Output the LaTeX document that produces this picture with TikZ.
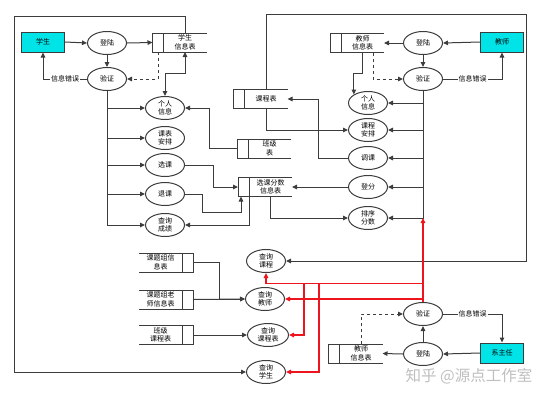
\documentclass[tikz,border=0pt]{standalone}
\usepackage{fontspec}
\setmainfont{Noto Sans CJK SC}
\usetikzlibrary{shapes.geometric, arrows.meta}
\definecolor{boxcyan}{RGB}{0,228,232}
\definecolor{linered}{RGB}{238,20,30}
\definecolor{linegray}{RGB}{60,60,60}

\begin{document}
\begin{tikzpicture}[
        x=1pt, y=-1pt,
        font=\fontsize{7pt}{8.5pt}\selectfont,
        actor/.style={rectangle, draw=linegray, line width=1pt, fill=boxcyan, minimum width=43pt, minimum height=20pt},
        proc/.style={ellipse, draw=linegray, line width=1pt, minimum width=39pt, minimum height=23pt, inner sep=0pt, align=center},
        store/.style={rectangle, minimum width=43pt, minimum height=19pt, inner sep=0pt, outer sep=0pt, align=center},
        arrow/.style={-{Triangle[length=5pt, width=4.5pt]}, line width=1pt, draw=linegray},
        twoway/.style={{Triangle[length=5pt, width=4.5pt]}-{Triangle[length=5pt, width=4.5pt]}, line width=1pt, draw=linegray},
        dasharrow/.style={arrow, dashed},
        redarrow/.style={-{Triangle[length=5pt, width=4.5pt]}, line width=1.1pt, color=linered},
        errlabel/.style={fill=white, inner sep=1pt}
    ]
    \useasboundingbox (0,0) rectangle (552,400);

    % student side
    \node (stu) [actor] at (43,42) {学生};
    \node (slogin) [proc] at (107,43) {登陆};
    \node (sver) [proc] at (107,79) {验证};
    \node (sstu) [store] at (185,42.5) {学生\\信息表};
    \node (spinfo) [proc] at (165,108) {个人\\信息};
    \node (ssched) [proc] at (165,138) {课表\\安排};
    \node (ssel) [proc] at (165,165) {选课};
    \node (sdrop) [proc] at (165,194) {退课};
    \node (sgrade) [proc] at (165,225) {查询\\成绩};

    % shared tables
    \node (course) [store] at (266,99) {课程表};
    \node (classt) [store] at (269.5,148.5) {班级\\表};
    \node (score) [store] at (270.5,187) {选课分数\\信息表};

    % teacher side
    \node (teach) [actor] at (502,42) {教师};
    \node (tlogin) [proc] at (423,43) {登陆};
    \node (tver) [proc] at (423,79) {验证};
    \node (tstore) [store] at (362.5,43) {教师\\信息表};
    \node (tpinfo) [proc] at (368,103) {个人\\信息};
    \node (tsched) [proc] at (368,130) {课程\\安排};
    \node (tadj) [proc] at (368,158) {调课};
    \node (tmark) [proc] at (368,187) {登分};
    \node (trank) [proc] at (368,218) {排序\\分数};

    % dean side
    \node (qcourse) [proc] at (266,261) {查询\\课程};
    \node (qteach) [proc] at (265,299) {查询\\教师};
    \node (qtab) [proc, minimum width=41pt] at (268,335) {查询\\课程表};
    \node (qstu) [proc] at (266,372) {查询\\学生};
    \node (ktgroup) [store] at (160.5,262.5) {课题组信\\息表};
    \node (ktteach) [store] at (160.5,299.5) {课题组老\\师信息表};
    \node (clsched) [store] at (160.5,335) {班级\\课程表};
    \node (dean) [actor] at (502,353) {系主任};
    \node (dlogin) [proc] at (423,354) {登陆};
    \node (dver) [proc] at (423,314) {验证};
    \node (dstore) [store] at (361,353.5) {教师\\信息表};

    \node (mark) [text=black!25, font=\fontsize{15.5pt}{16pt}\selectfont] at (469,376) {知乎 @源点工作室};

    % store outlines
    \foreach \s in {sstu, tstore, course, classt, score, dstore}
        \draw [linegray, line width=1pt] (\s.north east) -- ([xshift=-11pt]\s.north west) -- ([xshift=-11pt]\s.south west) -- (\s.south east) (\s.north west) -- (\s.south west);
    \foreach \s in {ktgroup, ktteach, clsched}
        \draw [linegray, line width=1pt] (\s.north west) -- ([xshift=11pt]\s.north east) -- ([xshift=11pt]\s.south east) -- (\s.south west) (\s.north east) -- (\s.south east);

    % student flows
    \draw [arrow] (stu.east) -- (slogin.west);
    \draw [arrow] (slogin.east) -- ([xshift=-11pt]sstu.west);
    \draw [arrow] (slogin.south) -- (sver.north);
    \draw [arrow] (sver.west) -| node[errlabel, pos=0.25] {信息错误} (stu.south);
    \draw [dasharrow] ([xshift=-5.5pt]sstu.south west) |- (sver.east);
    \draw [twoway] (spinfo.north) |- ([yshift=-21pt]sstu.south) -- (sstu.south);
    \draw [arrow] (sver.south) |- (sgrade.west);
    \foreach \n in {spinfo, ssched, ssel, sdrop}
        \draw [arrow] (sver.south |- \n.west) -- (\n.west);
    \draw [arrow] ([xshift=-11pt]classt.west) -- ++(-28pt,0) |- (spinfo.east);
    \draw [arrow] (ssel.east) -- ++(28pt,0) |- ([xshift=-11pt]score.west);
    \draw [arrow] (sdrop.east) -- ++(17.5pt,0) |- ([xshift=-8pt,yshift=-16pt]score.south west) -- ([xshift=-8pt]score.south west);
    \draw [arrow] (score.south west) |- (sgrade.east);
    \draw [arrow] (score.south) |- (trank.west);

    % outer frames
    \coordinate (sfr) at (14,16);
    \draw [arrow] (sstu.north) |- (sfr) |- (qstu.west);
    \coordinate (tfr) at (526,14);
    \draw [arrow] (course.north) |- (tfr) |- (qcourse.east);

    % teacher flows
    \draw [arrow] (teach.west) -- (tlogin.east);
    \draw [arrow] (tlogin.west) -- (tstore.east);
    \draw [arrow] (tlogin.south) -- (tver.north);
    \draw [arrow] (tver.east) -| node[errlabel, pos=0.25] {信息错误} (teach.south);
    \draw [dasharrow] ([xshift=10.5pt]tstore.south) |- (tver.west);
    \draw [arrow] (tstore.south) -- ++(0,-21pt) -| (tpinfo.north west);
    \draw [arrow] (tver.south) |- (trank.east);
    \foreach \n in {tpinfo, tsched, tadj, tmark}
        \draw [arrow] (tver.south |- \n.east) -- (\n.east);
    \draw [arrow] (course.south) |- (tsched.west);
    \draw [arrow] (tadj.west) -- ++(-30pt,0) |- (course.east);
    \draw [arrow] (tmark.west) -- (score.east);

    % dean flows
    \draw [arrow] (dean.west) -- (dlogin.east);
    \draw [arrow] (dlogin.west) -- (dstore.east);
    \draw [arrow] (dlogin.north) -- (dver.south);
    \draw [arrow] (dver.east) -| node[errlabel, pos=0.25] {信息错误} (dean.north);
    \draw [dasharrow] (dstore.north) |- (dver.west);
    \draw [arrow] ([xshift=11pt]ktgroup.east) -- ++(26pt,0) |- (qteach.west);
    \draw [arrow] ([xshift=11pt]ktteach.east) -- (qteach.west);
    \draw [arrow] ([xshift=11pt]clsched.east) -- (qtab.west);

    % red links from the dean check
    \coordinate (rj) at ([yshift=18.5pt]dver.north);
    \draw [redarrow] (dver.north) -- (tver.south |- trank.east);
    \draw [redarrow] (rj) -| (qcourse.south);
    \draw [redarrow] (dver.north |- qteach.east) -- (qteach.east);
    \draw [redarrow] ([xshift=-119pt]rj) |- (qtab.east);
    \draw [redarrow] ([xshift=-104pt]rj) |- (qstu.east);
\end{tikzpicture}
\end{document}
